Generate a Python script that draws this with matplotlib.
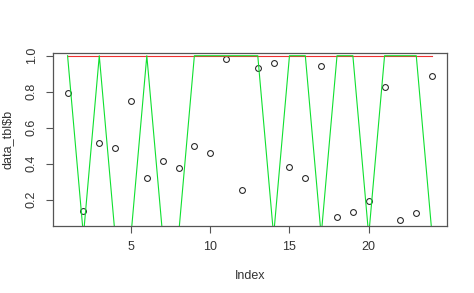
import matplotlib
matplotlib.use("Agg")
import matplotlib.pyplot as plt

# valores
idx = list(range(1, 25))
b_vals = [0.792, 0.135, 0.517, 0.485, 0.748, 0.318, 0.415, 0.376, 0.497, 0.461,
          0.981, 0.252, 0.933, 0.961, 0.381, 0.320, 0.944, 0.102, 0.129, 0.194,
          0.826, 0.089, 0.124, 0.885]
red_vals = [1] * 24
green_vals = [1, 0, 1, 0, 0, 1, 0, 0, 1, 1, 1, 1, 1, 0, 1, 1, 0, 1, 1, 0, 1, 1, 1, 0]
x_ticks = [5, 10, 15, 20]
y_ticks = [0.2, 0.4, 0.6, 0.8, 1.0]

plt.rcParams['font.family'] = ['Liberation Sans', 'DejaVu Sans']

fig = plt.figure(figsize=(4.74, 2.93), dpi=100)
ax = fig.add_axes([0.1118, 0.2287, 0.8306, 0.5914])

ax.plot(idx, b_vals, linestyle='none', marker='o', markersize=4.2,
        markerfacecolor='none', markeredgecolor='#222222', markeredgewidth=0.75)
ax.plot(idx, red_vals, color='#ee3030', linewidth=0.8)
ax.plot(idx, green_vals, color='#10e030', linewidth=0.8)

# rango estilo R (4% de margen)
ymin, ymax = min(b_vals), max(b_vals)
r = ymax - ymin
ax.set_xlim(1 - 0.04 * 23, 24 + 0.04 * 23)
ax.set_ylim(ymin - 0.04 * r, ymax + 0.04 * r)

ax.set_xticks(x_ticks)
ax.set_yticks(y_ticks)
ax.set_yticklabels(['0.2', '0.4', '0.6', '0.8', '1.0'], rotation=90, va='center')
ax.tick_params(direction='out', length=5, width=0.8, colors='#555555',
               labelsize=9, labelcolor='#333333', pad=6)

for s in ax.spines.values():
    s.set_color('#555555')
    s.set_linewidth(0.9)

ax.set_xlabel('Index', fontsize=9, color='#333333', labelpad=12)
ax.set_ylabel(r'data_tbl\$b', fontsize=9, color='#333333', labelpad=9)

fig.savefig('out.png', dpi=100)
